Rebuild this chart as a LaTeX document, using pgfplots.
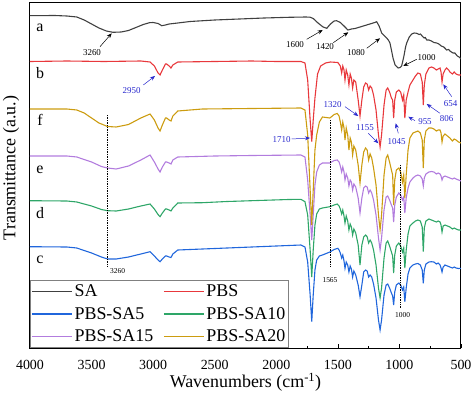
\documentclass[border=0pt]{standalone}
\usepackage{pgfplots}
\pgfplotsset{compat=1.18}
\usepackage{fontspec}
\setmainfont{Liberation Serif}
\usetikzlibrary{arrows.meta,calc}
\definecolor{cSA}{RGB}{64,64,64}
\definecolor{cPBS}{RGB}{232,56,60}
\definecolor{cSAfive}{RGB}{32,102,220}
\definecolor{cSAten}{RGB}{46,166,104}
\definecolor{cSAfifteen}{RGB}{178,124,222}
\definecolor{cSAtwenty}{RGB}{204,156,16}
\definecolor{annblue}{RGB}{40,40,205}
\begin{document}
\begin{tikzpicture}
\begin{axis}[
  scale only axis, width=431bp, height=346bp,
  x dir=reverse, xmin=500, xmax=4000,
  y dir=reverse, ymin=2, ymax=348,
  axis line style={line width=1pt},
  xtick={500,1000,...,4000}, minor x tick num=1,
  xtick pos=bottom, ytick=\empty,
  tick align=inside, major tick length=4bp, minor tick length=2.5bp,
  tick style={line width=0.6pt, black},
  /pgf/number format/assume math mode=true,
  /pgf/number format/1000 sep={},
  xticklabel style={font=\fontsize{14}{16}\selectfont, yshift=-9bp},
  xlabel={Wavenumbers (cm\textsuperscript{-1})},
  xlabel style={font=\fontsize{18}{20}\selectfont, at={(axis description cs:0.5,-0.098)}, anchor=center},
  ylabel={Transmittance (a.u.)},
  ylabel style={font=\fontsize{18}{20}\selectfont, at={(axis description cs:-0.0441,0.52)}, anchor=center},
  legend columns=2,
  legend cell align=left,
  legend style={at={(0,0)}, anchor=south west, draw=gray, line width=0.8pt, fill=white,
    font=\fontsize{18}{20}\selectfont, inner xsep=1bp, inner ysep=2.5bp, row sep=5bp,
    /tikz/every even column/.append style={column sep=8bp}},
  legend image code/.code={\draw[#1, line width=1.2pt] (0bp,0bp) -- (40bp,0bp);},
  every axis plot/.append style={line width=1.1pt},
]
% a: SA
\addplot[cSA] coordinates {
(4000,15.7)(3800,15.5)(3700,16)(3620,17)(3560,20)(3500,24)(3440,28)(3380,31)(3326,32.3)(3260,32)(3200,30.5)(3140,27.5)(3080,24.5)(3030,22.7)(3000,22.5)(2960,23.5)(2930,25.7)(2900,25)(2870,24)(2800,23)(2700,21.5)(2500,20)(2300,19)(2100,18)(1900,17.3)(1760,17)(1726,17.2)(1700,18.5)(1661,23)(1620,27)(1590,28.3)(1560,24)(1530,21)(1510,20.7)(1480,22.5)(1450,26)(1418,30)(1390,29)(1360,28.5)(1320,27)(1280,25.5)(1240,24)(1200,22.5)(1185,21.7)(1165,26)(1144,33)(1120,36)(1104,38)(1090,40)(1077,43)(1065,50)(1052,58)(1035,65)(1011,68)(995,67.5)(982,66)(965,57)(950,47)(941,43)(920,37)(900,34)(880,33)(860,33.3)(840,34.5)(830,34)(815,36)(800,38)(790,37.5)(778,40)(760,40)(740,41)(720,42.5)(697,43)(680,44)(660,46)(640,47)(616,50)(600,49.5)(590,51)(565,53)(550,53)(530,56)(515,57)(500,59)};
\addlegendentry{SA}
% b: PBS
\addplot[cPBS] coordinates {
(4000,61.5)(3700,61)(3400,61.5)(3100,61)(3025,62)(2990,66)(2960,73)(2944,75)(2925,70)(2900,64)(2890,64)(2870,66)(2855,68)(2840,65)(2800,62)(2500,61.5)(2200,61)(2000,61.5)(1800,61.5)(1767,63)(1745,80)(1725,120)(1712,141.7)(1700,120)(1686,98)(1665,74)(1640,66)(1600,63)(1560,62)(1500,62.5)(1480,66)(1469,73)(1460,66)(1450,70)(1442,80)(1432,70)(1420,75)(1410,85)(1400,74)(1390,78)(1380,88)(1370,80)(1355,82)(1335,100)(1320,116)(1305,100)(1290,87)(1275,83)(1262,84)(1250,90)(1238,86)(1225,88)(1210,95)(1190,110)(1170,135)(1157,147)(1145,135)(1125,105)(1108,90)(1095,88)(1080,92)(1065,98)(1055,100)(1047,118)(1038,100)(1025,92)(1005,90)(990,92)(975,100)(965,95)(956,118)(945,100)(930,92)(915,85)(890,80)(870,76)(850,73)(830,74)(815,82)(806,105)(798,85)(785,74)(760,68)(740,67)(720,68)(700,70)(685,69)(670,68)(662,72)(654,82)(645,74)(630,70)(617,68)(600,70)(590,72)(570,74)(555,72)(540,74)(520,75)(500,75)};
\addlegendentry{PBS}
% c: PBS-SA5
\addplot[cSAfive] coordinates {
(4000,246.7)(3700,247)(3620,248)(3500,253)(3420,257)(3370,259)(3300,259)(3200,257)(3100,254)(3025,251.7)(2990,256)(2960,260)(2944,261.7)(2925,259)(2900,256)(2890,256)(2870,257)(2855,257.5)(2840,254)(2800,250)(2600,249)(2400,248)(2200,247)(1900,245.5)(1800,245)(1767,247)(1745,262)(1725,295)(1712,321.7)(1700,295)(1686,270)(1672,260)(1650,256)(1625,255)(1565,252)(1530,249.5)(1500,248.3)(1490,250)(1480,253)(1469,258)(1460,255)(1450,261)(1442,268.3)(1432,262)(1420,265)(1410,272)(1400,266)(1390,269)(1380,277)(1370,271)(1355,275)(1335,285)(1320,296.7)(1305,285)(1290,272)(1275,270)(1262,271)(1250,277)(1238,275)(1225,277)(1210,284)(1190,298)(1170,320)(1157,330)(1145,320)(1125,295)(1108,285)(1095,284)(1080,288)(1065,293)(1055,296)(1047,305)(1038,292)(1025,285)(1005,283)(990,285)(975,290)(965,287)(956,301.7)(945,288)(930,274)(915,268)(890,265)(870,264)(850,263.5)(830,265)(815,270)(806,283.3)(798,270)(785,264)(760,262)(740,261.7)(720,262)(700,264)(685,263)(670,265)(662,268)(654,272)(645,267)(630,265)(610,266)(590,267)(570,268)(555,267)(540,268)(520,268.5)(500,268.3)};
\addlegendentry{PBS-SA5}
% d: PBS-SA10
\addplot[cSAten] coordinates {
(4000,200.7)(3700,201)(3620,202)(3500,206)(3420,209.5)(3370,210.7)(3300,211)(3200,209)(3100,206)(3025,204)(2990,209)(2960,214.5)(2944,216.7)(2925,213)(2900,209)(2890,209)(2870,210)(2855,211)(2840,208)(2800,203)(2600,202.7)(2400,201.5)(2200,200.7)(1900,199.5)(1800,199.3)(1767,201.7)(1745,215)(1725,250)(1712,277)(1700,250)(1686,225)(1672,214)(1650,209)(1625,208)(1565,206.7)(1530,205)(1505,204)(1490,206)(1480,209)(1469,214)(1460,210)(1450,216)(1442,223)(1432,216)(1420,221)(1410,230)(1400,224)(1390,227)(1380,235)(1370,229)(1355,233)(1335,245)(1320,265)(1305,245)(1290,237)(1275,235)(1262,236.7)(1250,243)(1238,240)(1225,243)(1210,250)(1190,265)(1170,288)(1157,298)(1145,288)(1125,258)(1108,243)(1095,241)(1080,246)(1065,252)(1055,256)(1047,273)(1038,255)(1025,246)(1005,243)(990,246)(975,252)(965,248)(956,268)(945,250)(930,234)(915,226)(890,223)(870,221)(850,220)(830,221)(815,227)(806,251.7)(798,228)(785,221)(760,219)(740,220)(720,221)(700,222)(685,221)(670,222)(662,225)(654,232)(645,226)(630,225)(610,226)(590,227)(570,229)(555,228)(540,229)(520,230)(500,230)};
\addlegendentry{PBS-SA10}
% e: PBS-SA15
\addplot[cSAfifteen] coordinates {
(4000,156)(3700,156)(3620,157)(3500,162)(3420,166.5)(3370,168)(3300,169)(3200,166)(3100,160)(3025,155)(2990,162)(2960,169)(2944,172)(2925,167)(2900,162)(2890,162)(2870,163)(2855,164)(2840,160)(2800,157)(2500,156)(2200,155.5)(1800,155)(1767,157)(1745,180)(1725,215)(1712,240)(1700,215)(1686,185)(1672,172)(1650,165)(1625,163)(1565,163)(1530,160.5)(1505,160)(1490,162)(1480,166)(1469,172)(1460,167)(1450,172)(1442,180)(1432,174)(1420,178)(1410,186)(1400,180)(1390,182)(1380,190)(1370,184)(1355,187)(1335,198)(1320,213)(1305,198)(1290,188)(1275,186)(1262,187)(1250,193)(1238,190)(1225,193)(1210,200)(1190,215)(1170,238)(1157,250)(1145,238)(1125,210)(1108,197)(1095,196)(1080,200)(1065,205)(1055,208)(1047,222)(1038,205)(1025,197)(1005,193)(990,195)(975,200)(965,197)(956,213)(945,198)(930,188)(915,182)(890,178)(870,176)(850,175)(830,176)(815,179)(806,186)(798,178)(785,174)(760,172)(740,171.5)(720,172)(700,174)(685,173)(670,174)(662,176)(654,180)(645,177)(630,176)(610,177)(590,178)(570,179)(555,178)(540,179)(520,180)(500,181)};
\addlegendentry{PBS-SA15}
% f: PBS-SA20
\addplot[cSAtwenty] coordinates {
(4000,109)(3700,109)(3620,110)(3560,113)(3500,118)(3440,123)(3370,126.5)(3300,127)(3200,124.5)(3100,118)(3025,114)(2990,120)(2960,128)(2944,131)(2925,125)(2900,118)(2890,118)(2870,120)(2855,121)(2840,116)(2800,111)(2600,109)(2200,108.5)(1800,108)(1767,110)(1745,135)(1725,190)(1712,225)(1700,190)(1686,150)(1672,135)(1650,122)(1625,117)(1565,118)(1530,114.5)(1505,113.5)(1490,116)(1480,122)(1469,130)(1460,122)(1450,128)(1442,140)(1432,128)(1420,135)(1410,150)(1400,138)(1390,142)(1380,155)(1370,146)(1355,150)(1335,165)(1320,183)(1305,165)(1290,152)(1275,148)(1262,150)(1250,160)(1238,154)(1225,158)(1210,168)(1190,185)(1170,215)(1157,230)(1145,215)(1125,175)(1108,158)(1095,155)(1080,162)(1065,170)(1055,175)(1047,205)(1038,180)(1025,170)(1005,168)(990,172)(975,182)(965,175)(956,198)(945,175)(930,150)(915,138)(890,133)(870,132)(850,131)(830,133)(815,140)(806,168)(798,140)(785,131)(760,128)(740,128)(720,129)(700,131)(685,130)(670,130)(662,133)(654,142)(645,136)(630,134)(610,136)(590,138)(570,141)(555,139)(540,140)(520,142)(500,143)};
\addlegendentry{PBS-SA20}
% dotted guide lines
\draw[densely dotted, line width=0.7pt, black] (axis cs:3370,115) -- (axis cs:3370,267);
\draw[densely dotted, line width=0.7pt, black] (axis cs:1565,120) -- (axis cs:1565,266.7);
\draw[densely dotted, line width=0.7pt, black] (axis cs:995,165) -- (axis cs:995,308);
\end{axis}
\begin{scope}[shift={(current axis.north west)}, x=1bp, y=-1bp, shift={(-30,-2)}]
  \tikzset{ann/.style={font=\fontsize{9}{10}\selectfont, inner sep=0pt},
           arr/.style={-{Stealth[length=5bp,width=4bp]}, line width=0.5pt}}
  % letters
  \foreach \l/\yy in {a/27.7, b/73, f/120, e/170, d/213.3, c/260}
    \node[font=\fontsize{16}{18}\selectfont, inner sep=0pt] at (40,\yy) {\l};
  % black annotations
  \node[ann] at (92,52.7) {3260};
  \draw[arr, black] (100,46.7) -- (111.7,33.3);
  \node[ann] at (295,45) {1600};
  \draw[arr, black] (306.7,39.3) -- (322.7,30);
  \node[ann] at (325,46.7) {1420};
  \draw[arr, black] (333.3,42.7) -- (348.3,32.3);
  \node[ann] at (356,52.7) {1080};
  \draw[arr, black] (366.7,48.3) -- (380,38.3);
  \node[ann] at (426.7,57.3) {1000};
  \draw[arr, black] (416.7,59.3) -- (403.3,66);
  % blue annotations
  \begin{scope}[annblue]
  \node[ann, text=annblue] at (131.7,90.7) {2950};
  \draw[arr, annblue] (143.3,85) -- (155,76);
  \node[ann, text=annblue] at (281.7,140) {1710};
  \draw[arr, annblue] (291.7,139) -- (310,138);
  \node[ann, text=annblue] at (332.7,104.3) {1320};
  \draw[arr, annblue] (345,106.7) -- (358.3,116);
  \node[ann, text=annblue] at (365,127.3) {1155};
  \draw[arr, annblue] (368.3,133.3) -- (378.3,143.3);
  \node[ann, text=annblue] at (396.7,141.7) {1045};
  \draw[arr, annblue] (398.3,133.3) -- (395.7,123.3);
  \node[ann, text=annblue] at (425,121.7) {955};
  \draw[arr, annblue] (415,120.7) -- (408.3,116.7);
  \node[ann, text=annblue] at (446.7,118.3) {806};
  \draw[arr, annblue] (440,113.3) -- (426.7,104);
  \node[ann, text=annblue] at (450.7,103.3) {654};
  \draw[arr, annblue] (451.7,96.7) -- (443.3,84.3);
  \end{scope}
  % dotted-line labels
  \node[font=\fontsize{7.5}{8}\selectfont, inner sep=0pt, anchor=west] at (110,270.7) {3260};
  \node[font=\fontsize{7.5}{8}\selectfont, inner sep=0pt] at (330,280) {1565};
  \node[font=\fontsize{7.5}{8}\selectfont, inner sep=0pt] at (402.7,315) {1000};
\end{scope}
\pgfresetboundingbox
\path ($(current axis.south west)+(-30bp,-46bp)$) rectangle ($(current axis.north east)+(13bp,2bp)$);
\end{tikzpicture}
\end{document}
